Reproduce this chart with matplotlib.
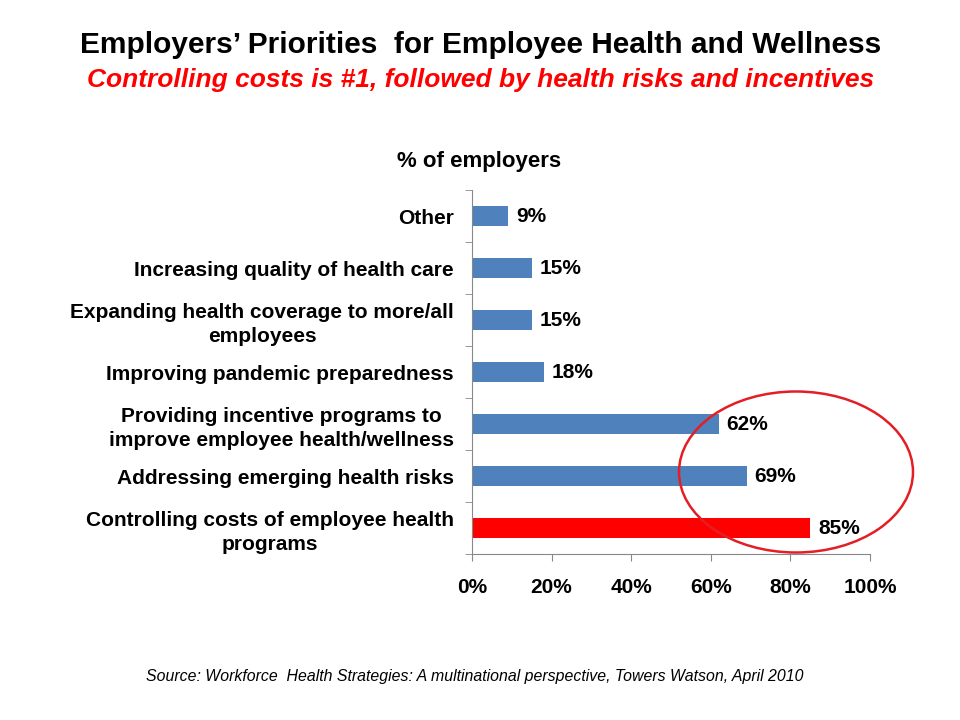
import matplotlib
matplotlib.use("Agg")
import matplotlib.pyplot as plt
from matplotlib.patches import Ellipse

plt.rcParams['font.family'] = ['Liberation Sans', 'DejaVu Sans']

categories = [
    "Controlling costs of employee health\nprograms",
    "Addressing emerging health risks",
    "Providing incentive programs to\nimprove employee health/wellness",
    "Improving pandemic preparedness",
    "Expanding health coverage to more/all\nemployees",
    "Increasing quality of health care",
    "Other",
]
values = [85, 69, 62, 18, 15, 15, 9]
colors = ["#FF0000", "#4F81BD", "#4F81BD", "#4F81BD", "#4F81BD", "#4F81BD", "#4F81BD"]
xticks = [0, 20, 40, 60, 80, 100]
xticklabels = ["0%", "20%", "40%", "60%", "80%", "100%"]

fig = plt.figure(figsize=(9.6, 7.2), dpi=100)
ax = fig.add_axes([472/960, 1-554/720, 398/960, 364/720])

y = list(range(len(categories)))
ax.barh(y, values, height=0.4, color=colors, zorder=2)
ax.set_xlim(0, 100)
ax.set_ylim(-0.5, len(categories) - 0.5)

ax.set_yticks(y)
ax.set_yticklabels(categories, fontsize=15, fontweight='bold', multialignment='center')
for lbl in ax.get_yticklabels():
    lbl.set_linespacing(1.35)
ax.tick_params(axis='y', length=0, pad=13)
ax.set_yticks([i - 0.5 for i in range(len(categories) + 1)], minor=True)
ax.tick_params(axis='y', which='minor', length=5, direction='out', color='#888888')

ax.set_xticks(xticks)
ax.set_xticklabels(xticklabels, fontsize=15, fontweight='bold')
ax.tick_params(axis='x', length=5, direction='out', color='#888888', pad=12)

for s in ['top', 'right']:
    ax.spines[s].set_visible(False)
for s in ['left', 'bottom']:
    ax.spines[s].set_color('#888888')

for yi, v in zip(y, values):
    ax.text(v + 2, yi, f"{v}%", va='center', ha='left', fontsize=15, fontweight='bold')

fig.text(481/960, 1-45/720, "Employers\u2019 Priorities  for Employee Health and Wellness",
         ha='center', va='center', fontsize=21.5, fontweight='bold')
fig.text(481/960, 1-80/720, "Controlling costs is #1, followed by health risks and incentives",
         ha='center', va='center', fontsize=19, color='#FF0000', fontweight='bold', style='italic')
fig.text(479/960, 1-161/720, "% of employers", ha='center', va='center', fontsize=16, fontweight='bold')
fig.text(475/960, 1-677/720, "Source: Workforce  Health Strategies: A multinational perspective, Towers Watson, April 2010",
         ha='center', va='center', fontsize=11.4, style='italic')

ell = Ellipse((796/960, 1-472/720), 234/960, 161/720, transform=fig.transFigure,
              fill=False, edgecolor='#E31E24', linewidth=1.8, zorder=5)
fig.patches.append(ell)

fig.savefig("out.png", dpi=100)
